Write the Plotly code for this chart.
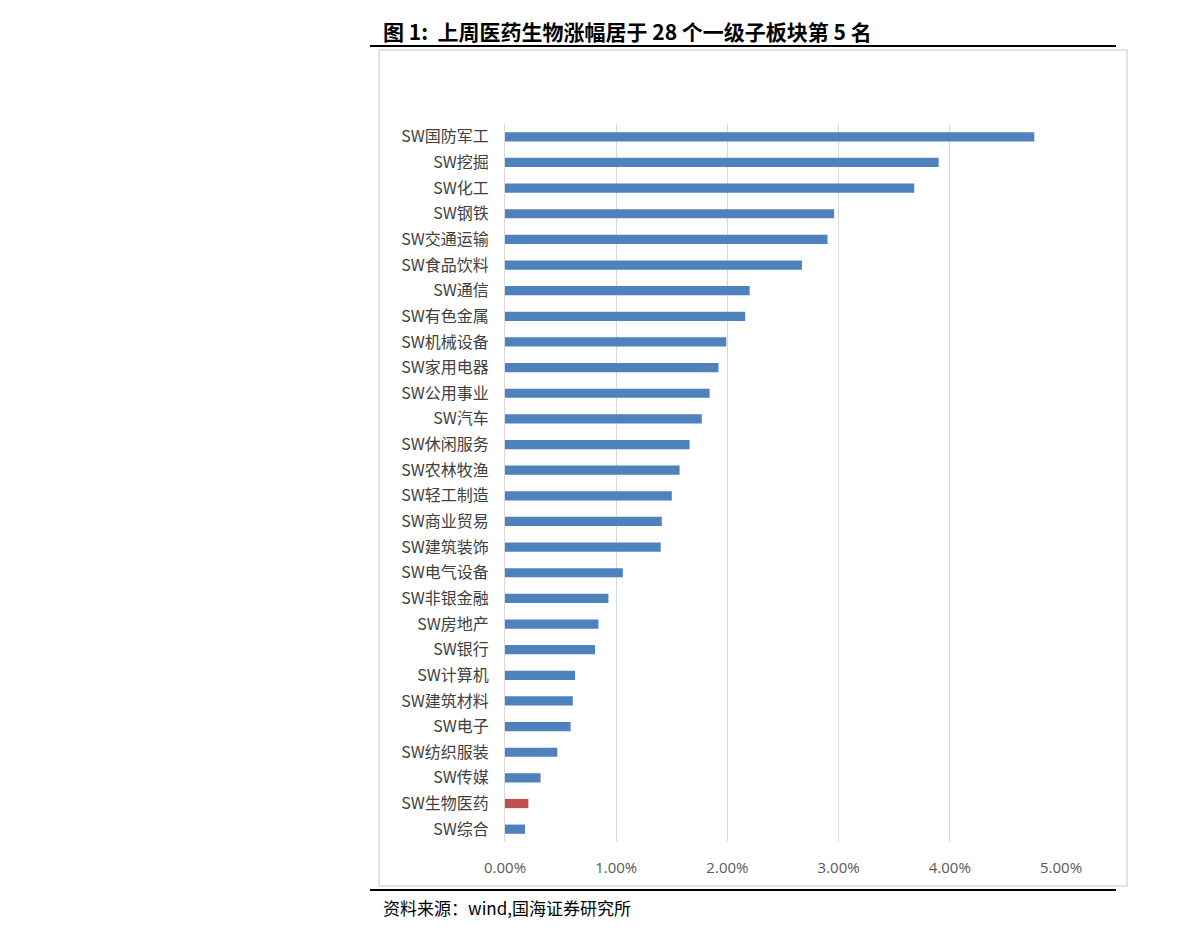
import plotly.graph_objects as go

categories = ["SW国防军工", "SW挖掘", "SW化工", "SW钢铁", "SW交通运输", "SW食品饮料", "SW通信",
              "SW有色金属", "SW机械设备", "SW家用电器", "SW公用事业", "SW汽车", "SW休闲服务",
              "SW农林牧渔", "SW轻工制造", "SW商业贸易", "SW建筑装饰", "SW电气设备", "SW非银金融",
              "SW房地产", "SW银行", "SW计算机", "SW建筑材料", "SW电子", "SW纺织服装", "SW传媒",
              "SW生物医药", "SW综合"]
values = [4.76, 3.90, 3.68, 2.96, 2.90, 2.67, 2.20, 2.16, 1.99, 1.92, 1.84, 1.77, 1.66,
          1.57, 1.50, 1.41, 1.40, 1.06, 0.93, 0.84, 0.81, 0.63, 0.61, 0.59, 0.47, 0.32,
          0.21, 0.18]
highlight = "SW生物医药"
x_ticks = [0, 1, 2, 3, 4, 5]
x_tick_labels = ["0.00%", "1.00%", "2.00%", "3.00%", "4.00%", "5.00%"]

title_text = "图 1:  上周医药生物涨幅居于 28 个一级子板块第 5 名"
source_text = "资料来源：wind,国海证券研究所"

colors = ["#C0504D" if c == highlight else "#4F81BD" for c in categories]

fig = go.Figure(go.Bar(
    x=values, y=categories, orientation="h",
    marker=dict(color=colors, line=dict(width=0)),
    width=0.36,
))

W, H = 1191, 938
L, R, T, B = 505, 1061, 124, 842

fig.update_layout(
    width=W, height=H,
    margin=dict(l=L, r=W - R, t=T, b=H - B, pad=0),
    paper_bgcolor="white", plot_bgcolor="white",
    showlegend=False,
    font=dict(family="Noto Sans CJK SC", color="#595959"),
)
fig.update_xaxes(
    range=[0, 5], tickvals=x_ticks, ticktext=x_tick_labels,
    showgrid=True, gridcolor="#D9D9D9", gridwidth=1,
    zeroline=False, showline=False,
    tickfont=dict(family="Open Sans", size=15, color="#595959"),
    ticks="outside", ticklen=12, tickcolor="rgba(0,0,0,0)",
    fixedrange=True,
)
fig.update_yaxes(
    autorange="reversed", categoryorder="array", categoryarray=categories,
    showgrid=False, zeroline=False,
    showline=True, linecolor="#D9D9D9", linewidth=1,
    tickfont=dict(family="Noto Sans CJK SC", size=16, color="#404040"),
    ticks="outside", ticklen=12, tickcolor="rgba(0,0,0,0)",
)

shapes = [
    dict(type="rect", xref="paper", yref="paper",
         x0=(379 - L) / (R - L), x1=(1127 - L) / (R - L),
         y0=(B - 886) / (B - T), y1=(B - 50) / (B - T),
         line=dict(color="#D9D9D9", width=1.5), fillcolor="rgba(0,0,0,0)", layer="below"),
    dict(type="line", xref="paper", yref="paper",
         x0=(370 - L) / (R - L), x1=(1116 - L) / (R - L),
         y0=(B - 46) / (B - T), y1=(B - 46) / (B - T),
         line=dict(color="black", width=2)),
    dict(type="line", xref="paper", yref="paper",
         x0=(370 - L) / (R - L), x1=(1116 - L) / (R - L),
         y0=(B - 890) / (B - T), y1=(B - 890) / (B - T),
         line=dict(color="black", width=2)),
]
fig.update_layout(shapes=shapes)

fig.add_annotation(
    text="<b>" + title_text + "</b>", xref="paper", yref="paper",
    x=(381 - L) / (R - L), y=(B - 31) / (B - T), xanchor="left", yanchor="middle",
    showarrow=False, font=dict(family="Noto Sans CJK SC", size=21, color="black"),
)
fig.add_annotation(
    text=source_text, xref="paper", yref="paper",
    x=(381 - L) / (R - L), y=(B - 907) / (B - T), xanchor="left", yanchor="middle",
    showarrow=False, font=dict(family="Noto Sans CJK SC", size=17, color="black"),
)

fig.write_html("out.html")
